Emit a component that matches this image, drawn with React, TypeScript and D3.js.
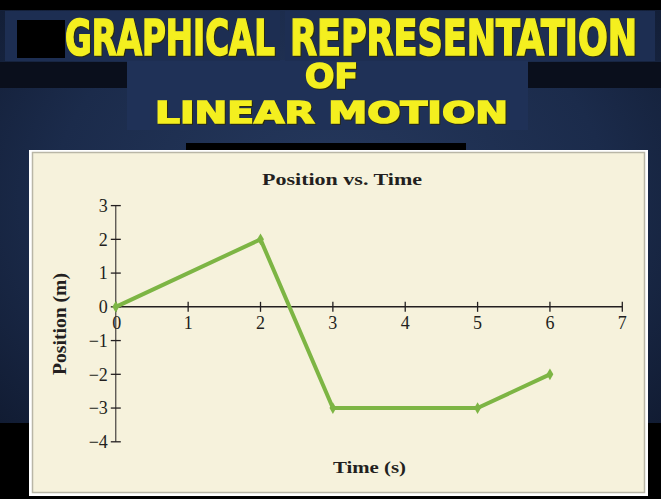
import React from 'react';
import { scaleLinear, line, symbol, symbolDiamond } from 'd3';

// position vs time data
const times = [0, 2, 3, 5, 6];
const positions = [0, 2, -3, -3, -2];
const xTicks = [0, 1, 2, 3, 4, 5, 6, 7];
const yTicks = [3, 2, 1, 0, -1, -2, -3, -4];

const W = 661;
const H = 499;

const fmt = (v: number) => (v < 0 ? `\u2212${Math.abs(v)}` : `${v}`);

export default function App() {
  const x = scaleLinear().domain([0, 7]).range([115.8, 622.3]);
  const y = scaleLinear().domain([-4, 3]).range([441.8, 205.6]);

  const pts = times.map((t, i) => [t, positions[i]] as [number, number]);
  const path = line<[number, number]>()
    .x(d => x(d[0]))
    .y(d => y(d[1]))(pts) || '';
  const diamond = symbol().type(symbolDiamond).size(40)() || '';

  const ink = '#231f20';
  const serif = "'Liberation Serif', 'Times New Roman', serif";
  const green = '#7db544';
  const yellow = '#f4ef1f';

  return (
    <svg
      width={W}
      height={H}
      viewBox={`0 0 ${W} ${H}`}
      style={{ position: 'absolute', left: 0, top: 0, display: 'block' }}
    >
      <defs>
        <radialGradient id="sky" cx="50%" cy="40%" r="70%">
          <stop offset="0%" stopColor="#26395e" />
          <stop offset="60%" stopColor="#1b2b4b" />
          <stop offset="100%" stopColor="#101a30" />
        </radialGradient>
      </defs>

      {/* background */}
      <rect width={W} height={H} fill="url(#sky)" />
      <rect x={0} y={0} width={W} height={10} fill="#000" />
      <rect x={0} y={62} width={128} height={26} fill="#0a0f1c" />
      <rect x={528} y={62} width={133} height={26} fill="#0a0f1c" />
      <rect x={127} y={60} width={401} height={70} fill="#1f3157" />
      <rect x={5} y={11} width={275} height={50} fill="#1d2e52" />
      <rect x={285} y={11} width={370} height={50} fill="#1d2e52" />
      <rect x={17} y={20} width={48} height={38} fill="#000" />
      <rect x={186} y={143} width={280} height={8} fill="#000" />
      <rect x={0} y={423} width={W} height={H - 423} fill="#000" />

      {/* headline */}
      <g
        fill={yellow}
        stroke={yellow}
        strokeWidth={1.6}
        fontFamily="'DejaVu Sans Condensed', 'DejaVu Sans', sans-serif"
        fontWeight="bold"
        style={{ filter: 'drop-shadow(1.5px 1.5px 0 #2a2a10)' }}
      >
        <text x={65} y={55} fontSize={50} textLength={210} lengthAdjust="spacingAndGlyphs">
          GRAPHICAL
        </text>
        <text x={290} y={55} fontSize={50} textLength={347} lengthAdjust="spacingAndGlyphs">
          REPRESENTATION
        </text>
      </g>
      <g
        fill={yellow}
        stroke={yellow}
        strokeWidth={1.6}
        fontFamily="'DejaVu Sans', sans-serif"
        fontWeight="bold"
        style={{ filter: 'drop-shadow(1.5px 1.5px 0 #2a2a10)' }}
      >
        <text x={305} y={88} fontSize={33} textLength={53} lengthAdjust="spacingAndGlyphs">
          OF
        </text>
        <text x={155} y={123} fontSize={31} textLength={353} lengthAdjust="spacingAndGlyphs">
          LINEAR MOTION
        </text>
      </g>

      {/* chart panel */}
      <rect x={29} y={150} width={619} height={346} fill="#ffffff" />
      <rect x={32.5} y={152.5} width={612} height={340} fill="#f6f2dc" stroke="#b9b6a6" strokeWidth={1.5} />

      <text
        x={262}
        y={185}
        textLength={160}
        lengthAdjust="spacingAndGlyphs"
        fontFamily={serif}
        fontWeight="bold"
        fontSize={17}
        fill={ink}
      >
        Position vs. Time
      </text>

      {/* axes */}
      <line x1={x(0)} x2={x(0)} y1={y(3)} y2={y(-4)} stroke={ink} strokeWidth={1} />
      <line x1={x(0)} x2={x(7)} y1={y(0)} y2={y(0)} stroke={ink} strokeWidth={1.5} />

      {yTicks.map(t => (
        <g key={`y${t}`}>
          <line x1={x(0) - 5} x2={x(0) + 5} y1={y(t)} y2={y(t)} stroke={ink} strokeWidth={1.3} />
          <text
            x={x(0) - 8}
            y={y(t)}
            dy="0.35em"
            textAnchor="end"
            fontFamily={serif}
            fontSize={18}
            fill={ink}
          >
            {fmt(t)}
          </text>
        </g>
      ))}

      {xTicks.map(t => (
        <g key={`x${t}`}>
          <line x1={x(t)} x2={x(t)} y1={y(0) - 5} y2={y(0) + 5} stroke={ink} strokeWidth={1.3} />
          <text
            x={x(t) + (t === 0 ? 1 : 0)}
            y={y(0) + 22}
            textAnchor="middle"
            fontFamily={serif}
            fontSize={18}
            fill={ink}
          >
            {t}
          </text>
        </g>
      ))}

      {/* axis titles */}
      <text
        transform={`translate(66, 324) rotate(-90)`}
        textAnchor="middle"
        textLength={102}
        lengthAdjust="spacingAndGlyphs"
        fontFamily={serif}
        fontWeight="bold"
        fontSize={18}
        fill={ink}
      >
        Position (m)
      </text>
      <text
        x={333}
        y={473}
        textLength={73}
        lengthAdjust="spacingAndGlyphs"
        fontFamily={serif}
        fontWeight="bold"
        fontSize={17}
        fill={ink}
      >
        Time (s)
      </text>

      {/* data */}
      <path d={path} fill="none" stroke={green} strokeWidth={4} strokeLinejoin="round" />
      {pts.map((d, i) => (
        <path key={i} d={diamond} transform={`translate(${x(d[0])},${y(d[1])})`} fill={green} />
      ))}
    </svg>
  );
}
